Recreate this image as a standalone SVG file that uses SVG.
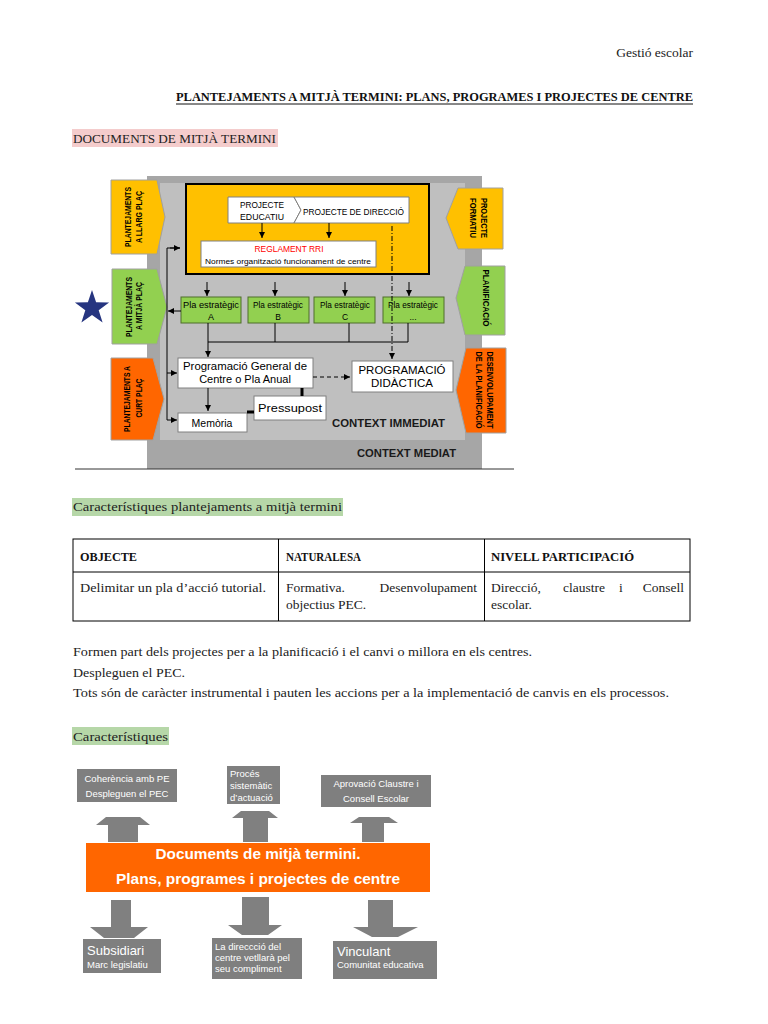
<svg xmlns="http://www.w3.org/2000/svg" width="768" height="1024" viewBox="0 0 768 1024">
<defs>
<marker id="ah" viewBox="0 0 10 10" refX="10" refY="5" markerWidth="6" markerHeight="6" orient="auto"><path d="M0,0 L10,5 L0,10 z" fill="#000"/></marker>
<style>
.doc{font-family:"Liberation Serif","DejaVu Serif",serif;font-size:13.5px;fill:#222}
.docb{font-family:"Liberation Serif","DejaVu Serif",serif;font-size:13px;font-weight:bold;fill:#111}
.sans{font-family:"Liberation Sans",Arial,sans-serif}
.lbl{font-family:"Liberation Sans",Arial,sans-serif;font-weight:bold;font-size:8.5px;fill:#000}
.wbox{fill:#fff;stroke:#808080;stroke-width:1}
.pla{fill:#92d050;stroke:#4f6f2a;stroke-width:1}
.ln{stroke:#000;stroke-width:1;fill:none}
.gb{fill:#7f7f7f}
.wt{font-family:"Liberation Sans",Arial,sans-serif;fill:#fff}
.cell{fill:none;stroke:#000;stroke-width:1}
</style>
</defs>
<rect width="768" height="1024" fill="#fff"/>

<!-- header -->
<g id="header">
<text class="doc" x="693" y="57" text-anchor="end">Gestió escolar</text>
<text class="docb" x="176" y="101" textLength="517" lengthAdjust="spacingAndGlyphs">PLANTEJAMENTS A MITJÀ TERMINI: PLANS, PROGRAMES I PROJECTES DE CENTRE</text>
<line x1="176" y1="104" x2="693" y2="104" stroke="#111" stroke-width="1"/>
<rect x="72" y="129" width="206" height="18" fill="#f4cccc"/>
<text class="doc" x="73" y="143" textLength="203" lengthAdjust="spacingAndGlyphs">DOCUMENTS DE MITJÀ TERMINI</text>
</g>

<!-- diagram 1 -->
<g id="context-mediat">
<rect x="147" y="176" width="335" height="293" fill="#a6a6a6"/>
<text class="sans" x="357" y="457" font-size="10.5" font-weight="bold" fill="#1a1a1a" textLength="99" lengthAdjust="spacingAndGlyphs">CONTEXT MEDIAT</text>
</g>
<g id="context-immediat">
<rect x="160" y="183" width="305" height="257" fill="#bfbfbf"/>
<text class="sans" x="332" y="427" font-size="10.5" font-weight="bold" fill="#1a1a1a" textLength="113" lengthAdjust="spacingAndGlyphs">CONTEXT IMMEDIAT</text>
</g>
<line x1="75" y1="469" x2="514" y2="469" stroke="#333" stroke-width="1"/>

<g id="pec-area">
<rect x="186" y="184" width="243" height="90" fill="#ffc000" stroke="#000" stroke-width="2"/>
</g>
<g id="projecte-educatiu">
<polygon class="wbox" points="228,197 294,197 301,210 294,223 228,223"/>
<text class="sans" x="262" y="208" font-size="9" text-anchor="middle" textLength="44" lengthAdjust="spacingAndGlyphs">PROJECTE</text>
<text class="sans" x="262" y="220" font-size="9" text-anchor="middle" textLength="44" lengthAdjust="spacingAndGlyphs">EDUCATIU</text>
</g>
<g id="projecte-direccio">
<polygon class="wbox" points="294,197 409,197 409,223 294,223 301,210"/>
<text class="sans" x="303" y="215" font-size="9.5" textLength="101" lengthAdjust="spacingAndGlyphs">PROJECTE DE DIRECCIÓ</text>
</g>
<g id="reglament">
<rect class="wbox" x="201" y="241" width="175" height="26"/>
<text class="sans" x="289" y="252" font-size="9" fill="#ff0000" text-anchor="middle" textLength="69" lengthAdjust="spacingAndGlyphs">REGLAMENT RRI</text>
<text class="sans" x="205" y="264" font-size="8" textLength="166" lengthAdjust="spacingAndGlyphs">Normes organització funcionament de centre</text>
</g>
<g id="pla-a">
<rect class="pla" x="181" y="297" width="60" height="26"/>
<text class="sans" x="211" y="308" font-size="9" text-anchor="middle" textLength="56" lengthAdjust="spacingAndGlyphs">Pla estratègic</text>
<text class="sans" x="211" y="320" font-size="9" text-anchor="middle">A</text>
</g>
<g id="pla-b">
<rect class="pla" x="248" y="297" width="61" height="26"/>
<text class="sans" x="278" y="308" font-size="8.5" text-anchor="middle" textLength="50" lengthAdjust="spacingAndGlyphs">Pla estratègic</text>
<text class="sans" x="278" y="320" font-size="8.5" text-anchor="middle">B</text>
</g>
<g id="pla-c">
<rect class="pla" x="314" y="297" width="61" height="26"/>
<text class="sans" x="345" y="308" font-size="8.5" text-anchor="middle" textLength="50" lengthAdjust="spacingAndGlyphs">Pla estratègic</text>
<text class="sans" x="345" y="320" font-size="8.5" text-anchor="middle">C</text>
</g>
<g id="pla-d">
<rect class="pla" x="383" y="297" width="61" height="26"/>
<text class="sans" x="413" y="308" font-size="8.5" text-anchor="middle" textLength="50" lengthAdjust="spacingAndGlyphs">Pla estratègic</text>
<text class="sans" x="413" y="320" font-size="8.5" text-anchor="middle">...</text>
</g>
<g id="pga">
<rect class="wbox" x="178" y="358" width="135" height="30"/>
<text class="sans" x="245" y="370" font-size="11" text-anchor="middle" textLength="124" lengthAdjust="spacingAndGlyphs">Programació General de</text>
<text class="sans" x="245" y="383" font-size="11" text-anchor="middle">Centre o Pla Anual</text>
</g>
<g id="programacio-didactica">
<rect class="wbox" x="352" y="361" width="101" height="31"/>
<text class="sans" x="402" y="374" font-size="11.5" text-anchor="middle" textLength="87" lengthAdjust="spacingAndGlyphs">PROGRAMACIÓ</text>
<text class="sans" x="402" y="387" font-size="11.5" text-anchor="middle">DIDÀCTICA</text>
</g>
<g id="pressupost">
<rect class="wbox" x="254" y="396" width="72" height="24"/>
<text class="sans" x="290" y="412" font-size="11" text-anchor="middle" textLength="64" lengthAdjust="spacingAndGlyphs">Pressupost</text>
</g>
<g id="memoria">
<rect class="wbox" x="178" y="413" width="69" height="19"/>
<text class="sans" x="212" y="427" font-size="10.5" text-anchor="middle">Memòria</text>
</g>

<g id="label-llarg">
<polygon points="111,180 157,180 165,217 157,254 111,254" fill="#ffc000" stroke="#a0a0a0" stroke-width="1"/>
<text class="lbl" transform="rotate(-90 131 217)" x="131" y="217" text-anchor="middle" textLength="60" lengthAdjust="spacingAndGlyphs">PLANTEJAMENTS</text>
<text class="lbl" transform="rotate(-90 142 217)" x="142" y="217" text-anchor="middle" textLength="52" lengthAdjust="spacingAndGlyphs">A LLARG PLAÇ</text>
</g>
<g id="label-mitja">
<polygon points="112,269 157,269 167,307 157,344 112,344" fill="#92d050" stroke="#a0a0a0" stroke-width="1"/>
<text class="lbl" transform="rotate(-90 132 307)" x="132" y="307" text-anchor="middle" textLength="60" lengthAdjust="spacingAndGlyphs">PLANTEJAMENTS</text>
<text class="lbl" transform="rotate(-90 142 306)" x="142" y="306" text-anchor="middle" textLength="48" lengthAdjust="spacingAndGlyphs">A MITJÀ PLAÇ</text>
</g>
<g id="label-curt">
<polygon points="111,358 153,358 164,399 153,440 111,440" fill="#ff6600" stroke="#a0a0a0" stroke-width="1"/>
<text class="lbl" transform="rotate(-90 130 399)" x="130" y="399" text-anchor="middle" textLength="66" lengthAdjust="spacingAndGlyphs">PLANTEJAMENTS A</text>
<text class="lbl" transform="rotate(-90 142 398)" x="142" y="398" text-anchor="middle" textLength="39" lengthAdjust="spacingAndGlyphs">CURT PLAÇ</text>
</g>
<g id="star">
<polygon points="92,290 96.1,302.3 109.1,302.4 98.7,310.2 102.6,322.6 92,315 81.4,322.6 85.3,310.2 74.9,302.4 87.9,302.3" fill="#263580"/>
</g>
<g id="label-formatiu">
<polygon points="458,188 503,188 503,249 458,249 446,218" fill="#ffc000" stroke="#a0a0a0" stroke-width="1"/>
<text class="lbl" transform="rotate(90 481 218)" x="481" y="218" text-anchor="middle" textLength="40" lengthAdjust="spacingAndGlyphs">PROJECTE</text>
<text class="lbl" transform="rotate(90 470 218)" x="470" y="218" text-anchor="middle" textLength="40" lengthAdjust="spacingAndGlyphs">FORMATIU</text>
</g>
<g id="label-planificacio">
<polygon points="465,266 505,266 505,335 465,335 456,298" fill="#92d050" stroke="#a0a0a0" stroke-width="1"/>
<text class="lbl" transform="rotate(90 483 298)" x="483" y="298" text-anchor="middle" textLength="57" lengthAdjust="spacingAndGlyphs">PLANIFICACIÓ</text>
</g>
<g id="label-desenvolupament">
<polygon points="466,348 506,348 506,433 466,433 456,390" fill="#ff6600" stroke="#a0a0a0" stroke-width="1"/>
<text class="lbl" transform="rotate(90 487 390)" x="487" y="390" text-anchor="middle" textLength="77" lengthAdjust="spacingAndGlyphs">DESENVOLUPAMENT</text>
<text class="lbl" transform="rotate(90 476 390)" x="476" y="390" text-anchor="middle" textLength="77" lengthAdjust="spacingAndGlyphs">DE LA PLANIFICACIÓ</text>
</g>

<g id="connectors1">
<line class="ln" x1="262" y1="223" x2="262" y2="238" marker-end="url(#ah)"/>
<line class="ln" x1="329" y1="223" x2="329" y2="238" marker-end="url(#ah)"/>
<line class="ln" x1="207" y1="282" x2="207" y2="296" marker-end="url(#ah)"/>
<line class="ln" x1="275" y1="282" x2="275" y2="296" marker-end="url(#ah)"/>
<line class="ln" x1="345" y1="282" x2="345" y2="296" marker-end="url(#ah)"/>
<line class="ln" x1="409" y1="282" x2="409" y2="296" marker-end="url(#ah)"/>
<line class="ln" x1="392" y1="226" x2="392" y2="359" stroke-dasharray="5,2,1,2" marker-end="url(#ah)"/>
<line class="ln" x1="208" y1="323" x2="208" y2="357" marker-end="url(#ah)"/>
<line class="ln" x1="275" y1="323" x2="275" y2="342"/>
<line class="ln" x1="349" y1="323" x2="349" y2="342"/>
<line class="ln" x1="408" y1="323" x2="408" y2="342"/>
<line class="ln" x1="208" y1="342" x2="408" y2="342"/>
<line class="ln" x1="208" y1="388" x2="208" y2="411" marker-end="url(#ah)"/>
<line class="ln" x1="313" y1="377" x2="350" y2="377" stroke-dasharray="4,3" marker-end="url(#ah)"/>
<line x1="302" y1="388" x2="302" y2="396" stroke="#000" stroke-width="3"/>
<line x1="247" y1="412" x2="254" y2="412" stroke="#000" stroke-width="3"/>
<polyline class="ln" points="180,248 167,248 167,420 177,420" marker-end="url(#ah)"/>
<line class="ln" x1="170" y1="248" x2="180" y2="248" marker-end="url(#ah)"/>
<line class="ln" x1="167" y1="373" x2="177" y2="373" marker-end="url(#ah)"/>
<line class="ln" x1="181" y1="311" x2="168" y2="311" marker-end="url(#ah)"/>
</g>

<!-- section 2 -->
<g id="section2">
<rect x="72" y="498" width="271" height="18" fill="#b6d7a8"/>
<text class="doc" x="73" y="511" textLength="269" lengthAdjust="spacingAndGlyphs">Característiques plantejaments a mitjà termini</text>
</g>
<g id="table">
<rect class="cell" x="73" y="539" width="617" height="82"/>
<line class="cell" x1="73" y1="572" x2="690" y2="572"/>
<line class="cell" x1="278.5" y1="539" x2="278.5" y2="621"/>
<line class="cell" x1="484.5" y1="539" x2="484.5" y2="621"/>
<text class="docb" x="80" y="561" textLength="57" lengthAdjust="spacingAndGlyphs">OBJECTE</text>
<text class="docb" x="286" y="561" textLength="75" lengthAdjust="spacingAndGlyphs">NATURALESA</text>
<text class="docb" x="491" y="561" textLength="143" lengthAdjust="spacingAndGlyphs">NIVELL PARTICIPACIÓ</text>
<text class="doc" x="80" y="592" textLength="186" lengthAdjust="spacingAndGlyphs">Delimitar un pla d’acció tutorial.</text>
<text class="doc" x="286" y="592">Formativa.</text>
<text class="doc" x="477" y="592" text-anchor="end">Desenvolupament</text>
<text class="doc" x="286" y="609">objectius PEC.</text>
<text class="doc" x="491" y="592">Direcció,</text>
<text class="doc" x="584" y="592" text-anchor="middle">claustre</text>
<text class="doc" x="621" y="592" text-anchor="middle">i</text>
<text class="doc" x="684" y="592" text-anchor="end">Consell</text>
<text class="doc" x="491" y="609">escolar.</text>
</g>
<g id="paragraph">
<text class="doc" x="73" y="656" textLength="459" lengthAdjust="spacingAndGlyphs">Formen part dels projectes per a la planificació i el canvi o millora en els centres.</text>
<text class="doc" x="73" y="677" textLength="112" lengthAdjust="spacingAndGlyphs">Despleguen el PEC.</text>
<text class="doc" x="73" y="697" textLength="596" lengthAdjust="spacingAndGlyphs">Tots són de caràcter instrumental i pauten les accions per a la implementació de canvis en els processos.</text>
<rect x="72" y="727" width="97" height="18" fill="#b6d7a8"/>
<text class="doc" x="73" y="741" textLength="95" lengthAdjust="spacingAndGlyphs">Característiques</text>
</g>

<!-- diagram 2 -->
<g id="box-coherencia">
<rect class="gb" x="77" y="769" width="100" height="33"/>
<text class="wt" x="127" y="782" font-size="9.5" text-anchor="middle">Coherència amb PE</text>
<text class="wt" x="127" y="797" font-size="9.5" text-anchor="middle">Despleguen el PEC</text>
</g>
<g id="box-proces">
<rect class="gb" x="227" y="766" width="53" height="38"/>
<text class="wt" x="230" y="777" font-size="9.5">Procés</text>
<text class="wt" x="230" y="789" font-size="9.5">sistemàtic</text>
<text class="wt" x="230" y="801" font-size="9.5">d’actuació</text>
</g>
<g id="box-aprovacio">
<rect class="gb" x="321" y="775" width="110" height="32"/>
<text class="wt" x="376" y="787" font-size="9.5" text-anchor="middle">Aprovació Claustre i</text>
<text class="wt" x="376" y="802" font-size="9.5" text-anchor="middle">Consell Escolar</text>
</g>
<g id="box-documents">
<rect x="86" y="843" width="344" height="49" fill="#ff6600"/>
<text class="wt" x="258" y="859" font-size="14" font-weight="bold" text-anchor="middle" textLength="205" lengthAdjust="spacingAndGlyphs">Documents de mitjà termini.</text>
<text class="wt" x="258" y="884" font-size="14" font-weight="bold" text-anchor="middle" textLength="284" lengthAdjust="spacingAndGlyphs">Plans, programes i projectes de centre</text>
</g>
<g id="box-subsidiari">
<rect class="gb" x="83" y="939" width="78" height="34"/>
<text class="wt" x="87" y="955" font-size="13">Subsidiari</text>
<text class="wt" x="87" y="968" font-size="9.5">Marc legislatiu</text>
</g>
<g id="box-direccio">
<rect class="gb" x="212" y="938" width="90" height="41"/>
<text class="wt" x="215" y="950" font-size="9.5">La direccció del</text>
<text class="wt" x="215" y="961" font-size="9.5">centre vetllarà pel</text>
<text class="wt" x="215" y="972" font-size="9.5">seu compliment</text>
</g>
<g id="box-vinculant">
<rect class="gb" x="333" y="941" width="104" height="38"/>
<text class="wt" x="337" y="956" font-size="13">Vinculant</text>
<text class="wt" x="337" y="968" font-size="9.5">Comunitat educativa</text>
</g>
<g id="connectors2" fill="#808080">
<polygon points="108,842 108,825 96,825 106,817 140,817 150,825 138,825 138,842"/>
<polygon points="243,842 243,818 232,818 241,811 269,811 278,818 268,818 268,842"/>
<polygon points="362,842 362,823 350,823 359,817 389,817 398,823 384,823 384,842"/>
<polygon points="111,900 131,900 131,927 148,927 134,938 104,938 90,927 111,927"/>
<polygon points="242,897 269,897 269,925 282,925 268,935 242,935 228,925 242,925"/>
<polygon points="368,900 393,900 393,927 418,927 398,937 372,937 353,927 368,927"/>
</g>
</svg>
